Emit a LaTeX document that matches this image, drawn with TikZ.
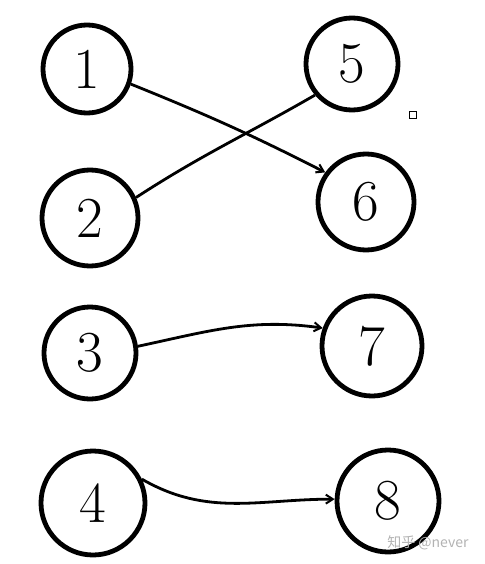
\documentclass[tikz,border=0pt]{standalone}
\usepackage{fontspec}
\newfontfamily\cjk{Noto Sans CJK SC}
\usetikzlibrary{arrows.meta}

\begin{document}
\begin{tikzpicture}[x=1pt, y=-1pt,
        vertex/.style={circle, draw, line width=4.8pt, inner sep=0pt, font=\fontsize{58}{58}\selectfont},
        line/.style={draw, line width=2.8pt},
        arrow/.style={line, -{Straight Barb[length=7pt, width=9pt, line width=2pt]}}]

    \useasboundingbox (0,0) rectangle (484,564);

    \node [vertex, minimum size=88pt] (v1) at (87,69) {1};
    \node [vertex, minimum size=92pt] (v5) at (352,64) {5};
    \node [vertex, minimum size=96pt] (v2) at (90,218) {2};
    \node [vertex, minimum size=96pt] (v6) at (366,202) {6};
    \node [vertex, minimum size=92pt] (v3) at (90,353) {3};
    \node [vertex, minimum size=100pt] (v7) at (372,346) {7};
    \node [vertex, minimum size=104pt] (v4) at (93,503) {4};
    \node [vertex, minimum size=102pt] (v8) at (388,501) {8};

    \path [arrow] (v1.-19) to[out=-22, in=153] (v6.144);
    \path [line] (v5.220) to[out=210, in=33] (v2.24);
    \path [arrow] (v3.8) to[out=12, in=172] (v7.160);
    \path [arrow] (v4.26) to[out=-30, in=180] (v8.178);

    % small square beside 5
    \draw [line width=0.8pt] (409.5,111.5) rectangle (416.5,118.5);

    \node [anchor=east, text=black!30, font=\cjk\fontsize{14}{14}\selectfont] (mark) at (472,543) {知乎 @never};

\end{tikzpicture}
\end{document}
